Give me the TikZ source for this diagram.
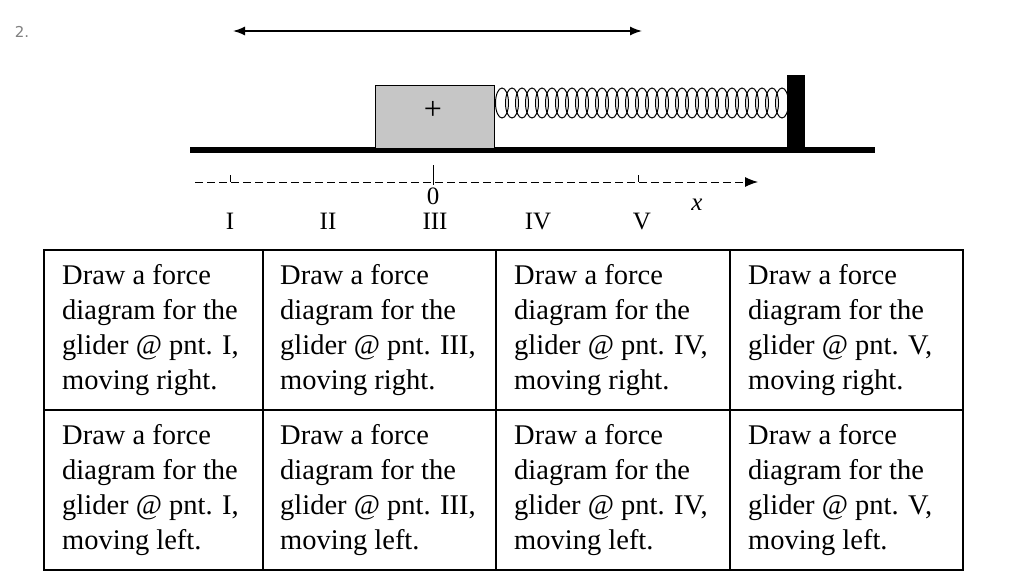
\documentclass[tikz,border=0pt]{standalone}
\usepackage{fontspec}
\setmainfont{Liberation Serif}
\newfontfamily\sans{DejaVu Sans}
\usetikzlibrary{arrows.meta}
\begin{document}
\begin{tikzpicture}[x=1pt,y=-1pt,
  cell/.style={anchor=north west,align=left,font=\fontsize{28.5}{35}\selectfont,inner sep=0pt},
  lab/.style={anchor=base,font=\fontsize{25}{25}\selectfont}]
\useasboundingbox (0,0) rectangle (1024,583);
\node[font=\sans\fontsize{15}{15}\selectfont,text=gray] (num) at (22,32) {2.};
\coordinate (aL) at (233,31); \coordinate (aR) at (642,31);
\draw[line width=1.5pt,{Latex[length=12pt,width=9pt]}-{Latex[length=12pt,width=9pt]}] (aL) -- (aR);
% ground and wall
\fill (190,147) rectangle (875,153);
\fill (787,75) rectangle (805,150);
% glider
\node[draw,fill=gray!45,minimum width=119pt,minimum height=63pt,inner sep=0pt,line width=0.8pt] (glider) at (434.5,116.5) {};
\node[font=\fontsize{32}{32}\selectfont] (plus) at (433,110) {+};
% spring
\foreach \i in {0,...,28} {\draw[line width=1pt] (502+\i*10,103) ellipse (6.5 and 15);}
% axis
\coordinate (xs) at (195,182); \coordinate (xe) at (758,182);
\draw[line width=1pt,dash pattern=on 8pt off 4pt,-{Latex[length=13pt,width=10pt]}] (xs) -- (xe);
\draw[line width=0.9pt] (230,175) -- (230,182) (638,175) -- (638,182) (433,165) -- (433,185);
\node[lab] (zero) at (433,204) {0};
\node[lab,font=\itshape\fontsize{25}{25}\selectfont] (xl) at (697,210) {x};
\node[lab] (p1) at (230,229) {I};
\node[lab] (p2) at (328,229) {II};
\node[lab] (p3) at (435,229) {III};
\node[lab] (p4) at (538,229) {IV};
\node[lab] (p5) at (642,229) {V};
% table
\draw[line width=1.5pt] (44,250) rectangle (963,570);
\draw[line width=1.5pt] (44,410) -- (963,410);
\foreach \x in {263,496,730} \draw[line width=1.5pt] (\x,250) -- (\x,570);
\node[cell] (c11) at (62,264) {Draw a force\\diagram for the\\glider @ pnt. I,\\moving right.};
\node[cell] (c12) at (280,264) {Draw a force\\diagram for the\\glider @ pnt. III,\\moving right.};
\node[cell] (c13) at (514,264) {Draw a force\\diagram for the\\glider @ pnt. IV,\\moving right.};
\node[cell] (c14) at (748,264) {Draw a force\\diagram for the\\glider @ pnt. V,\\moving right.};
\node[cell] (c21) at (62,424) {Draw a force\\diagram for the\\glider @ pnt. I,\\moving left.};
\node[cell] (c22) at (280,424) {Draw a force\\diagram for the\\glider @ pnt. III,\\moving left.};
\node[cell] (c23) at (514,424) {Draw a force\\diagram for the\\glider @ pnt. IV,\\moving left.};
\node[cell] (c24) at (748,424) {Draw a force\\diagram for the\\glider @ pnt. V,\\moving left.};
\end{tikzpicture}
\end{document}
